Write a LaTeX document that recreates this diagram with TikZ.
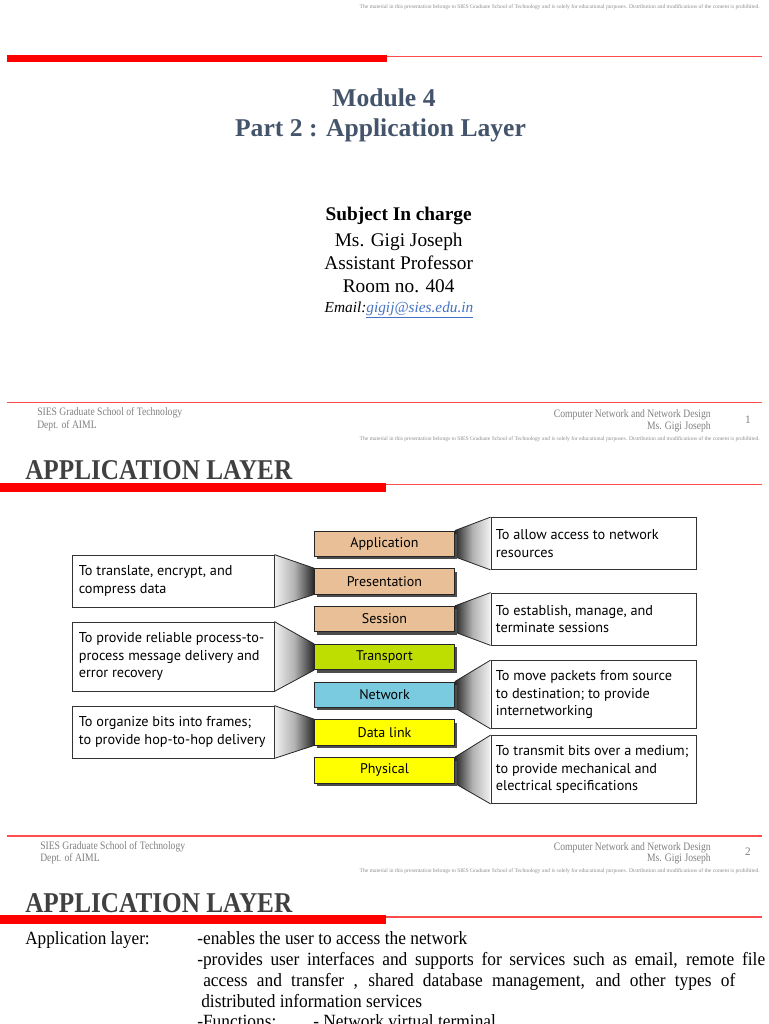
\documentclass[tikz,border=0pt]{standalone}
\usepackage{fontspec}
\usepackage{graphicx}
\setmainfont{Liberation Serif}
\newfontfamily\dfont{PT Sans}
\usetikzlibrary{shadows}
\definecolor{titleblue}{HTML}{44546A}
\definecolor{footgray}{HTML}{7F7F7F}
\definecolor{headgray}{HTML}{404040}
\definecolor{layertan}{HTML}{E8BF96}
\definecolor{layerlime}{HTML}{BEDD00}
\definecolor{layerblue}{HTML}{7BCBE0}
\definecolor{layeryellow}{HTML}{FFFF00}
\definecolor{linkblue}{HTML}{4472C4}
\definecolor{barred}{HTML}{FF0000}
\pgfdeclarelayer{bg}
\pgfsetlayers{bg,main}
\newcommand\nar[2]{\scalebox{#1}[1]{#2}}
\newcommand\noticetext{\resizebox{300pt}{!}{The material in this presentation belongs to SIES Graduate School of Technology and is solely for educational purposes. Distribution and modifications of the content is prohibited.}}
\tikzset{
  layerbox/.style={draw=black!85, line width=0.6pt, minimum width=105pt, minimum height=19.1pt, inner sep=0pt,
    font=\dfont\fontsize{10.5}{12}\selectfont,
    drop shadow={shadow xshift=2.2pt, shadow yshift=-2.2pt, fill=black!70, opacity=1}},
  callbox/.style={draw=black!80, line width=0.6pt, fill=white, inner sep=0pt},
  calltext/.style={anchor=west, inner sep=0pt, align=left, font=\dfont\fontsize{10.7}{13}\selectfont},
  redline/.style={draw=barred!70, line width=1.1pt},
  tinytext/.style={text=black!45, inner sep=0pt, anchor=east},
  foot/.style={text=footgray, inner sep=0pt, font=\fontsize{8.5}{10}\selectfont},
  slidehead/.style={text=headgray, inner sep=0pt, anchor=base west, font=\bfseries\fontsize{21.5}{24}\selectfont},
  body/.style={inner sep=0pt, anchor=base west, font=\fontsize{14}{16}\selectfont},
  titletext/.style={anchor=base, inner sep=0pt, text=titleblue, font=\bfseries\fontsize{19.2}{22}\selectfont},
  infotext/.style={anchor=base, inner sep=0pt, font=\fontsize{14.5}{16}\selectfont},
  connline/.style={line width=0.6pt, draw=black!85}
}
\begin{document}
\begin{tikzpicture}[x=0.75pt,y=-0.75pt]
\useasboundingbox (0,0) rectangle (768,1024);
\clip (0,0) rectangle (768,1024);

% ---------- slide 1 ----------
\node[tinytext] (n1) at (760,7) {\noticetext};
\draw[redline] (7,56.5) -- (762,56.5);
\fill[barred] (7,55) rectangle (387,62.5);
\node[titletext] (t1) at (384,106) {Module 4};
\node[titletext] (t2) at (380.5,136) {Part 2 : Application Layer};
\node[infotext, font=\bfseries\fontsize{14.5}{16}\selectfont] (s1) at (398.7,220) {Subject In charge};
\node[infotext] (s2) at (398.7,246) {Ms. Gigi Joseph};
\node[infotext] (s3) at (398.7,269) {Assistant Professor};
\node[infotext] (s4) at (398.7,292.7) {Room no. 404};
\node[infotext, font=\itshape\fontsize{11.5}{13}\selectfont] (s5) at (399,312.3) {Email:\textcolor{linkblue}{\underline{gigij@sies.edu.in}}};

\draw[redline] (7,402.5) -- (762,402.5);
\node[foot, anchor=base west] (f1) at (37,415) {\nar{0.85}{SIES Graduate School of Technology}};
\node[foot, anchor=base west] (f2) at (37,428) {\nar{0.85}{Dept. of AIML}};
\node[foot, anchor=base east] (f3) at (711,417) {\nar{0.85}{Computer Network and Network Design}};
\node[foot, anchor=base east] (f4) at (711,429) {\nar{0.85}{Ms. Gigi Joseph}};
\node[foot, anchor=base] (f5) at (748,423) {1};
\node[tinytext] (n2) at (760,439) {\noticetext};

% ---------- slide 2 ----------
\node[slidehead] (h2) at (25,479) {\nar{0.88}{APPLICATION LAYER}};
\draw[redline] (386,484.5) -- (762,484.5);
\fill[barred] (0,483) rectangle (386,491.5);

\node[layerbox, fill=layertan] (app) at (384.5,543.7) {Application};
\node[layerbox, fill=layertan] (pres) at (384.5,581.3) {Presentation};
\node[layerbox, fill=layertan] (sess) at (384.5,619) {Session};
\node[layerbox, fill=layerlime] (trans) at (384.5,657) {Transport};
\node[layerbox, fill=layerblue] (net) at (384.5,694.7) {Network};
\node[layerbox, fill=layeryellow] (dl) at (384.5,732.3) {Data link};
\node[layerbox, fill=layeryellow] (phys) at (384.5,770.3) {Physical};

\node[callbox, minimum width=153.75pt, minimum height=39pt] (ca) at (593.5,543.5) {};
\node[callbox, minimum width=153.75pt, minimum height=39pt] (cs) at (593.5,619) {};
\node[callbox, minimum width=153.75pt, minimum height=51pt] (cn) at (593.5,694.5) {};
\node[callbox, minimum width=153.75pt, minimum height=51pt] (cp) at (593.5,769.5) {};
\node[callbox, minimum width=151.5pt, minimum height=39pt] (lp) at (173,581) {};
\node[callbox, minimum width=151.5pt, minimum height=51.75pt] (lt) at (173,656.5) {};
\node[callbox, minimum width=151.5pt, minimum height=39pt] (ld) at (173,732) {};

\node[calltext] (cat) at ([xshift=3.75pt]ca.west) {To allow access to network\\resources};
\node[calltext] (cst) at ([xshift=3.75pt]cs.west) {To establish, manage, and\\terminate sessions};
\node[calltext] (cnt) at ([xshift=3.75pt]cn.west) {To move packets from source\\to destination; to provide\\internetworking};
\node[calltext] (cpt) at ([xshift=3.75pt]cp.west) {To transmit bits over a medium;\\to provide mechanical and\\electrical specifications};
\node[calltext] (lpt) at ([xshift=5.25pt]lp.west) {To translate, encrypt, and\\compress data};
\node[calltext] (ltt) at ([xshift=5.25pt]lt.west) {To provide reliable process-to-\\process message delivery and\\error recovery};
\node[calltext] (ldt) at ([xshift=5.25pt]ld.west) {To organize bits into frames;\\to provide hop-to-hop delivery};

\begin{pgfonlayer}{bg}
\foreach \l/\c in {app/ca, sess/cs, net/cn, phys/cp} {
  \shade[left color=black!85, right color=black!5, middle color=black!30]
    (\l.north east) -- (\c.north west) -- (\c.south west) -- (\l.south east) -- cycle;
  \draw[connline] (\l.north east) -- (\c.north west) (\l.south east) -- (\c.south west);
}
\foreach \l/\c in {pres/lp, trans/lt, dl/ld} {
  \shade[left color=black!5, right color=black!85, middle color=black!30]
    (\c.north east) -- (\l.north west) -- (\l.south west) -- (\c.south east) -- cycle;
  \draw[connline] (\c.north east) -- (\l.north west) (\c.south east) -- (\l.south west);
}
\end{pgfonlayer}

\draw[redline] (7,836) -- (762,836);
\node[foot, anchor=base west] (g1) at (40,849) {\nar{0.85}{SIES Graduate School of Technology}};
\node[foot, anchor=base west] (g2) at (40,861) {\nar{0.85}{Dept. of AIML}};
\node[foot, anchor=base east] (g3) at (711,850) {\nar{0.85}{Computer Network and Network Design}};
\node[foot, anchor=base east] (g4) at (711,861) {\nar{0.85}{Ms. Gigi Joseph}};
\node[foot, anchor=base] (g5) at (748,855) {2};
\node[tinytext] (n3) at (760,871) {\noticetext};

% ---------- slide 3 ----------
\node[slidehead] (h3) at (25,912) {\nar{0.88}{APPLICATION LAYER}};
\draw[redline] (386,917) -- (762,917);
\fill[barred] (0,915) rectangle (386,924);

\node[body] (b1) at (25,944) {\nar{0.92}{Application layer:}};
\node[body] (b2) at (197,944) {\nar{0.93}{-enables the user to access the network}};
\node[body] (b3) at (197,965) {\nar{0.93}{\makebox[458pt][s]{-provides user interfaces and supports for services such as email, remote file}}};
\node[body] (b4) at (203,986) {\nar{0.93}{\makebox[429pt][s]{access and transfer , shared database management, and other types of}}};
\node[body] (b5) at (201,1007) {\nar{0.93}{distributed information services}};
\node[body] (b6) at (197,1027) {\nar{0.93}{-Functions:}};
\node[body] (b7) at (313,1027) {\nar{0.93}{- Network virtual terminal}};
\end{tikzpicture}
\end{document}
